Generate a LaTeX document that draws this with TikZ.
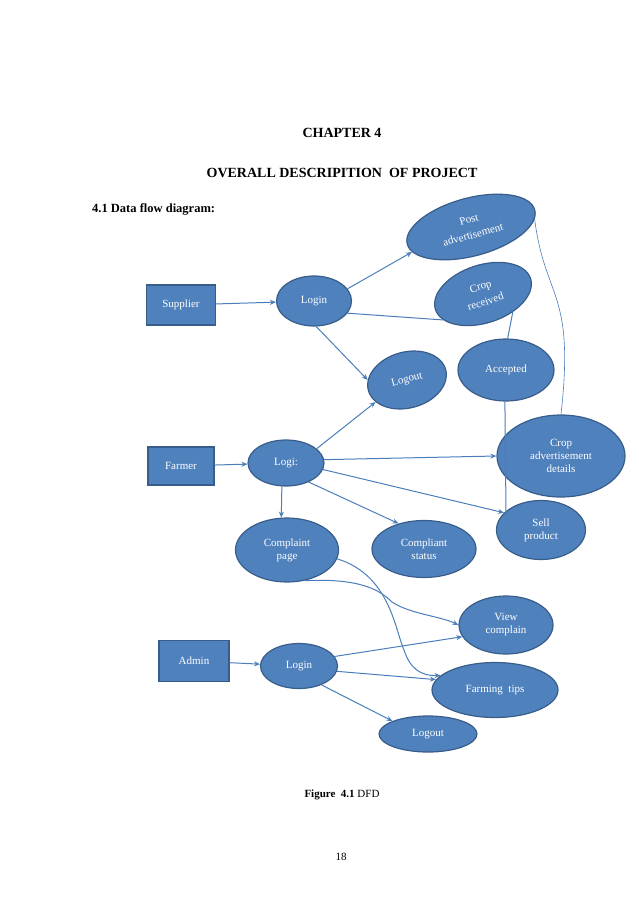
\documentclass[tikz,border=0pt]{standalone}
\usepackage{fontspec}
\setmainfont{Liberation Serif}
\usetikzlibrary{shapes.geometric,arrows.meta,calc}
\definecolor{bfill}{HTML}{4F81BD}
\definecolor{bdraw}{HTML}{385D8A}
\definecolor{bline}{HTML}{4A7EBB}
\begin{document}
\begin{tikzpicture}[x=1pt,y=-1pt,
  ent/.style={draw=bdraw,fill=bfill,line width=1.2pt,text=white,font=\fontsize{11}{13}\selectfont,minimum width=#1,minimum height=40,inner sep=1pt},
  proc/.style={ellipse,draw=bdraw,fill=bfill,line width=1.2pt,text=white,font=\fontsize{11}{13}\selectfont,align=center,inner sep=0pt},
  flow/.style={draw=bline,line width=1pt,-{Stealth[length=6pt,width=5pt]}},
  plain/.style={draw=bline,line width=1pt},
  thin/.style={draw=bline,line width=0.6pt}]
\useasboundingbox (0,0) rectangle (638,902);
\node[font=\bfseries\fontsize{14}{16}\selectfont] (t1) at (342,133) {CHAPTER 4};
\node[font=\bfseries\fontsize{14}{16}\selectfont] (t2) at (342,173) {OVERALL DESCRIPITION\ \ OF PROJECT};
\node[font=\bfseries\fontsize{12.5}{15}\selectfont,anchor=west,inner sep=0] (t3) at (92,209) {4.1 Data flow diagram:};
% supplier
\node[ent=69] (sup) at (181,305) {Supplier};
\node[proc,minimum width=75,minimum height=50] (l1) at (314,301) {Login};
\node[proc,minimum width=132,minimum height=58,rotate=15] (post) at (471,227) {Post\\[3pt]advertisement};
\node[proc,minimum width=100,minimum height=58,rotate=18] (crec) at (483,294) {Crop\\[3pt]received};
\node[proc,minimum width=80,minimum height=56,rotate=15] (lo1) at (407,380) {Logout};
\node[proc,minimum width=96,minimum height=62] (acc) at (506,370) {Accepted};
\node[proc,minimum width=128,minimum height=82] (cad) at (561,456) {Crop\\advertisement\\details};
% farmer
\node[ent=66,minimum height=38] (far) at (181,466) {Farmer};
\node[proc,minimum width=76,minimum height=46] (l2) at (286,463) {Logi:};
\node[proc,minimum width=103,minimum height=64] (cp) at (287,550) {Complaint\\page};
\node[proc,minimum width=104,minimum height=57] (cs) at (424,549) {Compliant\\status};
\node[proc,minimum width=89,minimum height=59] (sell) at (541,530) {Sell\\product};
\node[proc,minimum width=94,minimum height=58] (vc) at (506,625) {View\\complain};
\node[proc,minimum width=126,minimum height=55] (ft) at (495,690) {Farming\ \ tips};
% admin
\node[ent=70,minimum height=41] (adm) at (194,661) {Admin};
\node[proc,minimum width=77,minimum height=45] (l3) at (299,666) {Login};
\node[proc,minimum width=98,minimum height=36] (lo3) at (428,734) {Logout};
\node[font=\fontsize{11}{13}\selectfont] (cap) at (342,795) {\textbf{Figure\ \ 4.1} DFD};
\node[font=\fontsize{11}{13}\selectfont] (pg) at (341,857) {18};
% supplier flows
\draw[flow] (sup) -- (l1);
\draw[flow] (l1.20) -- (post.188);
\draw[plain] (l1.-20) -- (crec.195);
\draw[flow] (l1.-85) -- (lo1.165);
\coordinate (a1) at (513,311);
\draw[plain] (a1) -- (acc.87);
\coordinate (s1) at (506,512);
\draw[plain] (acc.-92) -- (s1);
\draw[thin] (post.-8) .. controls (545,300) and (575,290) .. (cad.90);
% farmer flows
\draw[flow] (far) -- (l2);
\draw[flow] (l2.25) -- (lo1.200);
\draw[flow] (l2.5) -- (cad.180);
\draw[flow] (l2.-10) -- (sell.155);
\draw[flow] (l2.-100) -- (cp.100);
\draw[flow] (l2.-40) -- (cs.135);
\draw[flow] (cp.-60) .. controls (360,578) and (380,590) .. (392,602) .. controls (410,614) and (440,616) .. (vc.180);
\draw[flow] (cp.-10) .. controls (390,575) and (395,630) .. (404,650) .. controls (410,668) and (420,676) .. (ft.165);
% admin flows
\draw[flow] (adm) -- (l3);
\draw[flow] (l3.15) -- (vc.195);
\draw[flow] (l3.-8) -- (ft.170);
\draw[flow] (l3.-40) -- (lo3.160);
\end{tikzpicture}
\end{document}
